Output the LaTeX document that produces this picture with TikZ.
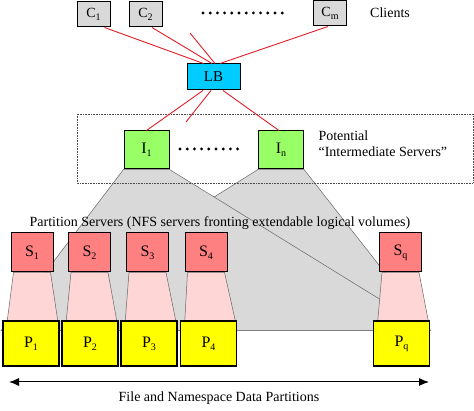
\documentclass[tikz,border=0pt]{standalone}
\usepackage{fontspec}
\setmainfont{Liberation Serif}
\usepackage{xcolor}
\usetikzlibrary{arrows.meta,backgrounds}
\definecolor{cligray}{RGB}{217,217,217}
\definecolor{lbcyan}{RGB}{0,204,255}
\definecolor{intgreen}{RGB}{153,255,102}
\definecolor{srvred}{RGB}{255,128,128}
\definecolor{partyellow}{RGB}{255,255,0}
\definecolor{trappink}{RGB}{255,214,214}
\definecolor{shade}{RGB}{217,217,217}
\definecolor{linkred}{RGB}{225,30,40}
\newcommand{\lowsub}[1]{\raisebox{-0.2em}{\fontsize{10}{10}\selectfont #1}}
\tikzset{box/.style={rectangle,draw,line width=1pt,inner sep=0pt},
  cli/.style={box,fill=cligray,minimum width=33pt,minimum height=25pt},
  lbox/.style={box,fill=lbcyan,minimum width=53pt,minimum height=26pt,font=\fontsize{15}{15}\selectfont},
  inter/.style={box,fill=intgreen,minimum width=45pt,minimum height=38pt,font=\fontsize{16}{16}\selectfont},
  srv/.style={box,fill=srvred,minimum width=42pt,minimum height=39pt,font=\fontsize{16}{16}\selectfont},
  part/.style={box,fill=partyellow,line width=1.4pt,minimum width=56pt,minimum height=45pt,font=\fontsize{16}{16}\selectfont},
  link/.style={linkred,line width=0.9pt},
  trap/.style={fill=trappink,draw=black!60,line width=0.5pt},
  fan/.style={fill=shade,draw=black!60,line width=0.5pt},
  dots/.style={line width=3.2pt,line cap=round,dash pattern=on 0pt off 7.2pt}}

\begin{document}
\begin{tikzpicture}[x=1pt,y=-1pt,font=\fontsize{14}{16}\selectfont,>=Latex]
        \useasboundingbox (0,0) rectangle (474,411);

        % clients and load balancer
        \node[cli] (c1) at (93.5,14.5) {C\lowsub{1}};
        \node[cli] (c2) at (145.5,14.5) {C\lowsub{2}};
        \node[cli] (cm) at (330,13.5) {C\lowsub{m}};
        \node (clients) at (390,13) {Clients};
        \node[lbox] (lb) at (213.5,77) {LB};
        \coordinate (cx) at (190,33);
        \coordinate (ix) at (186,122);

        % intermediate servers
        \draw[black!70,line width=0.6pt,dash pattern=on 0.8pt off 0.8pt] (77,114) rectangle (473,183);
        \node[inter] (i1) at (146.5,150) {I\lowsub{1}};
        \node[inter] (in) at (281,150) {I\lowsub{n}};
        \node[anchor=west,align=left] (pot) at (315,144) {Potential\\“Intermediate Servers”};

        % partition servers and partitions
        \node (ps) at (220,223) {Partition Servers (NFS servers fronting extendable logical volumes)};
        \node[srv] (s1) at (32,252.5) {S\lowsub{1}};
        \node[srv] (s2) at (89.5,252.5) {S\lowsub{2}};
        \node[srv] (s3) at (147.5,252.5) {S\lowsub{3}};
        \node[srv] (s4) at (206,252.5) {S\lowsub{4}};
        \node[srv] (sq) at (400.5,252.5) {S\lowsub{q}};
        \node[part] (p1) at (31,343.5) {P\lowsub{1}};
        \node[part] (p2) at (90,343.5) {P\lowsub{2}};
        \node[part] (p3) at (149,343.5) {P\lowsub{3}};
        \node[part] (p4) at (208.5,343.5) {P\lowsub{4}};
        \node[part] (pq) at (401.5,343.5) {P\lowsub{q}};

        \begin{scope}[on background layer]
            \filldraw[fan] (in.south west) -- (in.south east) -- ([yshift=-10pt]pq.north east) -- ([yshift=-10pt,xshift=-1pt]p1.north west) -- cycle;
            \filldraw[fan] (i1.south west) -- (i1.south east) -- ([yshift=-10pt]pq.north east) -- ([yshift=-10pt,xshift=-1pt]p1.north west) -- cycle;
            \foreach \k in {1,2,3,4,q}
                \filldraw[trap] ([xshift=3pt]s\k.south west) -- ([xshift=-3pt]s\k.south east) -- ([xshift=-2pt]p\k.north east) -- ([xshift=5pt]p\k.north west) -- cycle;
        \end{scope}

        \draw [link] ([xshift=11pt]c1.south) to [] ([xshift=-10pt]lb.north);
        \draw [link] ([xshift=6.5pt]c2.south) to [] ([xshift=-1.5pt]lb.north);
        \draw [link] (cx) to [] ([xshift=1.5pt]lb.north);
        \draw [link] ([xshift=-2pt]cm.south) to [] ([xshift=6.5pt]lb.north);
        \draw [link] ([xshift=-10.5pt]lb.south) to [] (i1.north);
        \draw [link] ([xshift=-2.5pt]lb.south) to [] (ix);
        \draw [link] ([xshift=9.5pt]lb.south) to [] ([xshift=-2pt]in.north);

        \draw[dots] (203,13) -- (283,13);
        \draw[dots] (180,149) -- (239,149);

        % partition range
        \coordinate (al) at (9,382);
        \coordinate (ar) at (429,382);
        \draw [{Latex[length=10pt,width=8pt]}-{Latex[length=10pt,width=8pt]},line width=1pt] (al) to [] node[below=6pt]{File and Namespace Data Partitions} (ar);
    \end{tikzpicture}
\end{document}
